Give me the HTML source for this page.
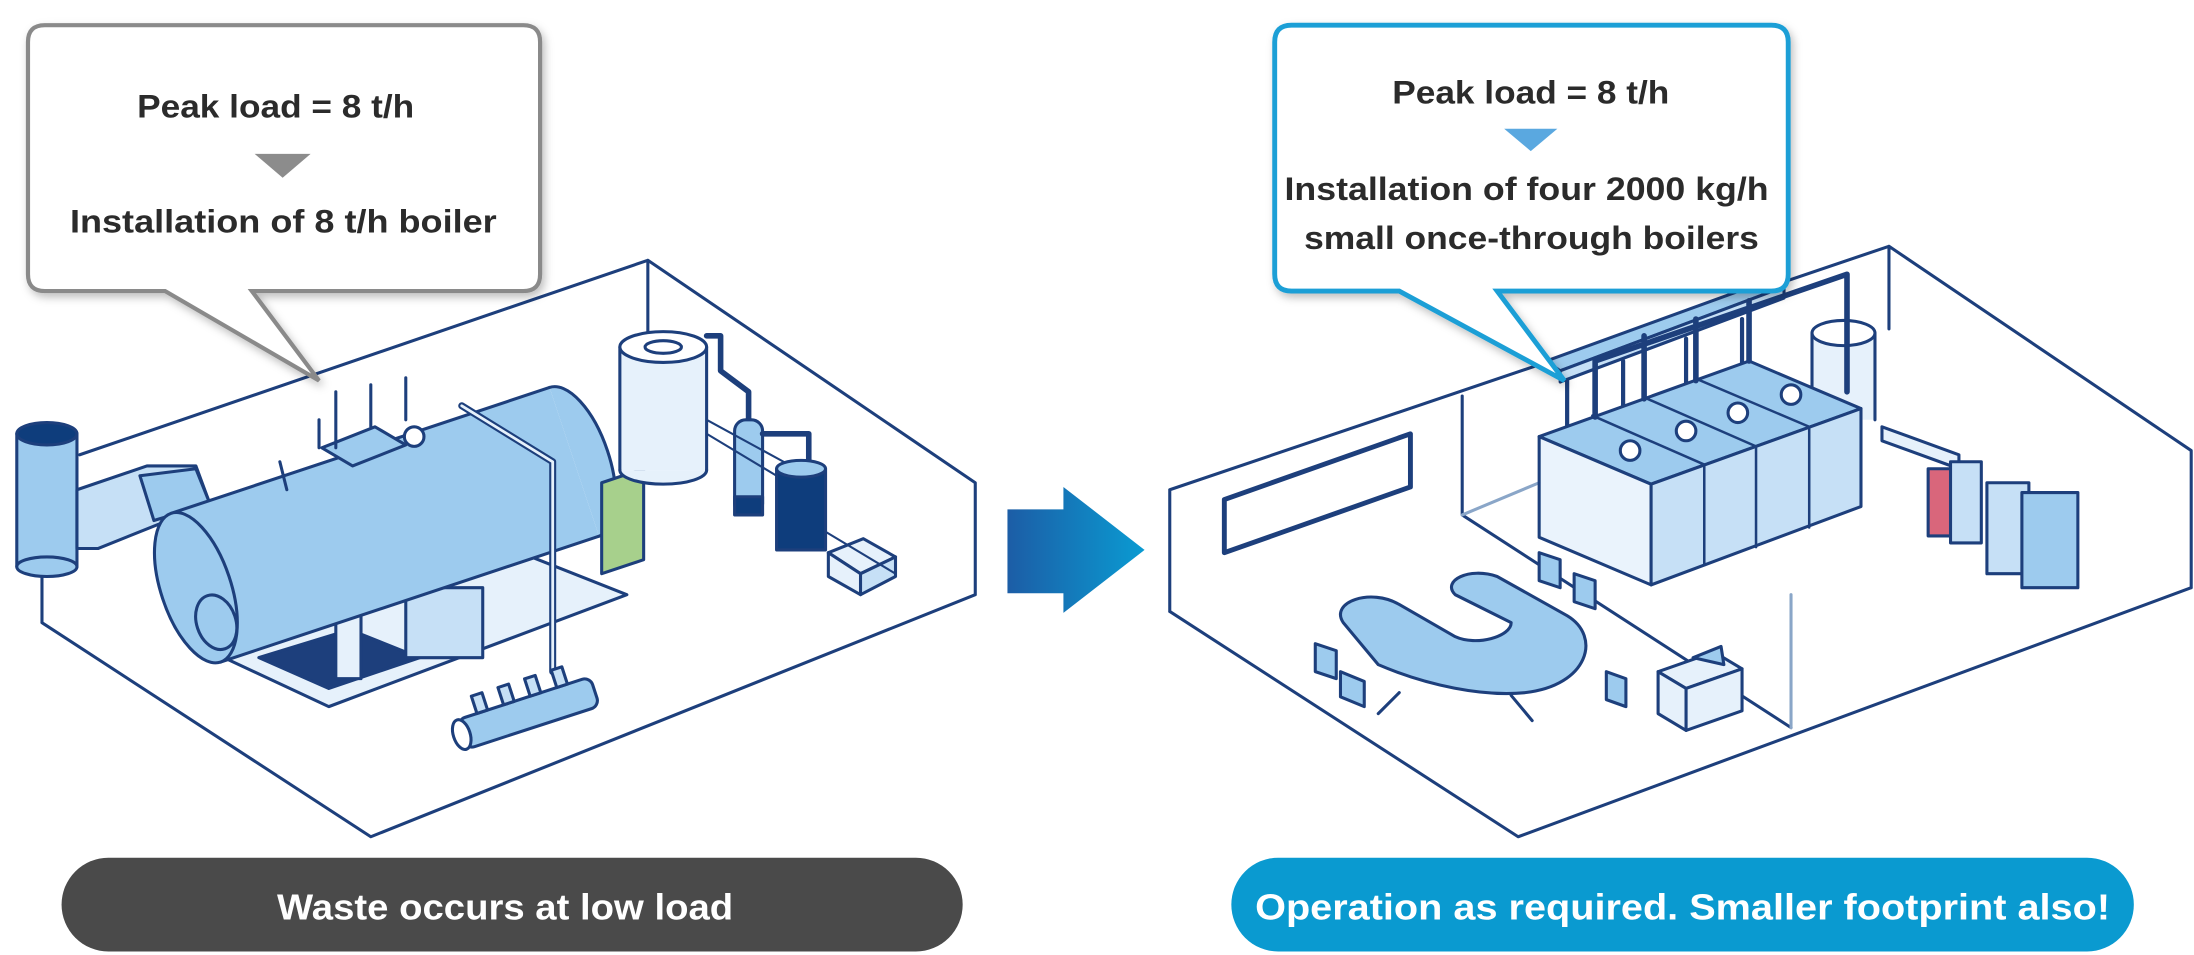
<!DOCTYPE html>
<html><head><meta charset="utf-8"><style>
html,body{margin:0;padding:0;background:#fff;}
svg{display:block;}
text{font-family:"Liberation Sans",sans-serif;font-weight:bold;}
</style></head><body>
<svg width="2194" height="955" viewBox="0 0 1568 682.5" xmlns="http://www.w3.org/2000/svg">
<defs>
<linearGradient id="ag" x1="0" x2="1"><stop offset="0" stop-color="#1c5da6"/><stop offset="1" stop-color="#0a9bd2"/></linearGradient>
<filter id="sh" x="-5%" y="-5%" width="115%" height="120%"><feDropShadow dx="2" dy="3" stdDeviation="3" flood-color="#000" flood-opacity="0.25"/></filter>
</defs>
<g fill="none" stroke="#1d3f7c" stroke-width="2.2" stroke-linejoin="round" stroke-linecap="round">
<!-- LEFT ROOM -->
<path d="M57,325 L463,186 L697,345 L697,425 M463,186 L463,250 M30,445 L265,598 L697,425 M30,405 L30,445"/>
<polygon points="160,470 235,505 448,425 372,395" fill="#e6f1fb"/>
<polygon points="185,470 235,492 300,470 250,450" fill="#1d3f7c"/>
<rect x="290" y="420" width="55" height="50" fill="#c6e0f6"/>
<rect x="240" y="430" width="18" height="55" fill="#e6f1fb"/>
<!-- chimney -->
<rect x="12" y="310" width="43" height="95" fill="#9dcbee"/>
<ellipse cx="33.5" cy="405" rx="21.5" ry="7" fill="#9dcbee"/>
<ellipse cx="33.5" cy="310" rx="21.5" ry="8" fill="#0e3d7c"/>
<polygon points="55,350 105,333 140,333 150,360 70,392 55,392" fill="#c6e0f6"/>
<polygon points="100,340 140,335 150,360 110,372" fill="#9dcbee"/>
<!-- boiler -->
<g transform="translate(140,420) rotate(-18.4)">
<rect x="0" y="-56" width="285" height="112" fill="#9dcbee" stroke="none"/>
<path d="M0,-56 L285,-56 M0,56 L285,56"/>
<path d="M285,-56 A25,56 0 0 1 285,56" fill="#9dcbee"/>
<ellipse cx="0" cy="0" rx="25" ry="56" fill="#9dcbee"/>
<ellipse cx="6" cy="28" rx="14" ry="20" fill="#9dcbee"/>
</g>
<polygon points="230,320 268,305 290,318 252,333" fill="#9dcbee"/>
<path d="M228,300 L228,320 M240,280 L240,320 M265,275 L265,305 M290,270 L290,300 M200,330 L205,350"/>
<circle cx="296" cy="312" r="7" fill="#fff"/>
<path d="M330,290 L395,330 L395,480" stroke-width="5" stroke="#1d3f7c"/>
<path d="M330,290 L395,330 L395,480" stroke-width="2" stroke="#e6f1fb"/>
<g transform="translate(330,525) rotate(-18)">
<rect x="0" y="-11" width="100" height="22" rx="6" fill="#9dcbee"/>
<ellipse cx="0" cy="0" rx="6" ry="11" fill="#fff"/>
<rect x="15" y="-24" width="8" height="13" fill="#c6e0f6"/><rect x="35" y="-24" width="8" height="13" fill="#c6e0f6"/><rect x="55" y="-24" width="8" height="13" fill="#c6e0f6"/><rect x="75" y="-24" width="8" height="13" fill="#c6e0f6"/>
</g>
<!-- tank etc -->
<polygon points="430,345 460,335 460,400 430,410" fill="#a7d08c"/>
<rect x="443" y="248" width="62" height="88" fill="#e6f1fb" stroke="none"/>
<path d="M443,248 L443,336 M505,248 L505,336"/>
<path d="M443,336 A31,10 0 0 0 505,336" fill="#e6f1fb"/>
<ellipse cx="474" cy="248" rx="31" ry="11" fill="#fff"/>
<ellipse cx="474" cy="248" rx="13" ry="4.5"/>
<path d="M505,240 L515,240 L515,265 L535,280 L535,300" stroke-width="4"/>
<rect x="525" y="300" width="20" height="68" rx="8" fill="#9dcbee"/>
<rect x="525" y="355" width="20" height="13" fill="#0e3d7c"/>
<path d="M545,310 L578,310 L578,335" stroke-width="4"/>
<rect x="555" y="335" width="35" height="58" fill="#0e3d7c"/>
<ellipse cx="572.5" cy="335" rx="17.5" ry="6" fill="#9dcbee"/>
<polygon points="592,395 617,385 640,398 615,410" fill="#e6f1fb"/>
<polygon points="592,395 615,410 615,425 592,412" fill="#e6f1fb"/>
<polygon points="615,410 640,398 640,412 615,425" fill="#c6e0f6"/>
<path d="M505,300 L560,330 M505,310 L555,340 M590,380 L640,410" stroke-width="1.5"/>
<!-- RIGHT ROOM -->
<path d="M836,350 L1350,176 L1566,322 L1566,420 M1350,176 L1350,235 M836,437 L1085,598 L1566,420 M836,350 L836,437 M1045,283 L1045,368 L1280,520"/>
<path d="M1280,425 L1280,520 M1045,368 L1100,345" stroke="#8aa6c8"/>
<polygon points="875,357 1008,310 1008,348 875,395" fill="#fff" stroke-width="3.5"/>
<!-- pipe rack -->
<polygon points="1105,258 1265,200 1275,205 1115,265" fill="#9dcbee"/>
<polygon points="1115,265 1275,205 1275,213 1115,273" fill="#c6e0f6"/>
<path d="M1120,272 L1120,315 M1160,258 L1160,300 M1205,242 L1205,285 M1245,228 L1245,270" stroke-width="3"/>
<!-- tank right -->
<rect x="1295" y="238" width="45" height="62" fill="#e6f1fb" stroke="none"/>
<path d="M1295,238 L1295,300 M1340,238 L1340,300"/>
<ellipse cx="1317.5" cy="238" rx="22.5" ry="9" fill="#fff"/>
<!-- boilers -->
<polygon points="1100,312 1250,258 1330,292 1180,346" fill="#9dcbee"/>
<polygon points="1100,312 1180,346 1180,418 1100,384" fill="#e6f1fb" fill-opacity="0.85"/>
<polygon points="1180,346 1330,292 1330,362 1180,418" fill="#c6e0f6"/>
<path d="M1218,332 L1218,404 M1255,319 L1255,391 M1293,305 L1293,377 M1138,297 L1218,332 M1175,284 L1255,319 M1213,271 L1293,305" stroke-width="1.8"/>
<path d="M1140,298 L1140,258 L1320,196 L1320,280 M1175,285 L1175,240 M1212,272 L1212,228 M1250,258 L1250,215" stroke-width="4"/>
<circle cx="1165" cy="322" r="7" fill="#fff"/><circle cx="1205" cy="308" r="7" fill="#fff"/><circle cx="1242" cy="295" r="7" fill="#fff"/><circle cx="1280" cy="282" r="7" fill="#fff"/>
<!-- panels -->
<polygon points="1345,305 1400,325 1400,335 1345,315" fill="#e6f1fb"/>
<rect x="1378" y="335" width="16" height="48" fill="#d9667b"/>
<rect x="1394" y="330" width="22" height="58" fill="#c6e0f6"/>
<rect x="1420" y="345" width="30" height="65" fill="#c6e0f6"/>
<rect x="1445" y="352" width="40" height="68" fill="#9dcbee"/>
<!-- U table -->
<path d="M960,445 C950,430 980,420 1000,432 L1040,455 C1055,462 1080,455 1080,445 L1040,425 C1030,415 1050,405 1070,412 L1120,440 C1145,455 1135,490 1090,495 C1060,498 1020,490 985,475 Z" fill="#9dcbee"/>
<path d="M1000,495 L985,510 M1080,497 L1095,515"/>
<g fill="#9dcbee">
<polygon points="940,460 955,465 955,485 940,480"/><polygon points="958,480 975,487 975,505 958,498"/>
<polygon points="1100,395 1115,400 1115,420 1100,415"/><polygon points="1125,410 1140,415 1140,435 1125,430"/>
<polygon points="1148,480 1162,485 1162,505 1148,500"/>
</g>
<polygon points="1185,480 1225,466 1245,478 1205,492" fill="#e6f1fb"/>
<polygon points="1185,480 1205,492 1205,522 1185,510" fill="#e6f1fb"/>
<polygon points="1205,492 1245,478 1245,508 1205,522" fill="#e6f1fb"/>
<polygon points="1210,470 1230,462 1232,475" fill="#9dcbee"/>
</g>
<!-- middle arrow -->
<polygon points="720,364 760,364 760,348 818,393 760,438 760,424 720,424" fill="url(#ag)"/>
<!-- LEFT CALLOUT -->
<g filter="url(#sh)">
<path d="M32,18 L374,18 Q386,18 386,30 L386,196 Q386,208 374,208 L180,208 L228,272 L118,208 L32,208 Q20,208 20,196 L20,30 Q20,18 32,18 Z" fill="#fff" stroke="#8a8a8a" stroke-width="3"/>
</g>
<text x="98" y="84" font-size="23" fill="#2b2b2b" textLength="198" lengthAdjust="spacingAndGlyphs">Peak load = 8 t/h</text>
<polygon points="182,110 222,110 202,127" fill="#8c8c8c"/>
<text x="50" y="166" font-size="23" fill="#2b2b2b" textLength="305" lengthAdjust="spacingAndGlyphs">Installation of 8 t/h boiler</text>
<!-- RIGHT CALLOUT -->
<g filter="url(#sh)">
<path d="M923,18 L1266,18 Q1278,18 1278,30 L1278,196 Q1278,208 1266,208 L1070,208 L1118,272 L1000,208 L923,208 Q911,208 911,196 L911,30 Q911,18 923,18 Z" fill="#fff" stroke="#1a9fd6" stroke-width="3.5"/>
</g>
<text x="995" y="74" font-size="23" fill="#2b2b2b" textLength="198" lengthAdjust="spacingAndGlyphs">Peak load = 8 t/h</text>
<polygon points="1075,92 1113,92 1094,108" fill="#5aa8e0"/>
<text x="918" y="143" font-size="23" fill="#2b2b2b" textLength="346" lengthAdjust="spacingAndGlyphs">Installation of four 2000 kg/h</text>
<text x="932" y="178" font-size="23" fill="#2b2b2b" textLength="325" lengthAdjust="spacingAndGlyphs">small once-through boilers</text>
<!-- pills -->
<rect x="44" y="613" width="644" height="67" rx="33.5" fill="#4a4a4a"/>
<text x="198" y="657" font-size="26" fill="#fff" textLength="326" lengthAdjust="spacingAndGlyphs">Waste occurs at low load</text>
<rect x="880" y="613" width="645" height="67" rx="33.5" fill="#0a9ad0"/>
<text x="897" y="657" font-size="26" fill="#fff" textLength="611" lengthAdjust="spacingAndGlyphs">Operation as required. Smaller footprint also!</text>
</svg>
</body></html>
